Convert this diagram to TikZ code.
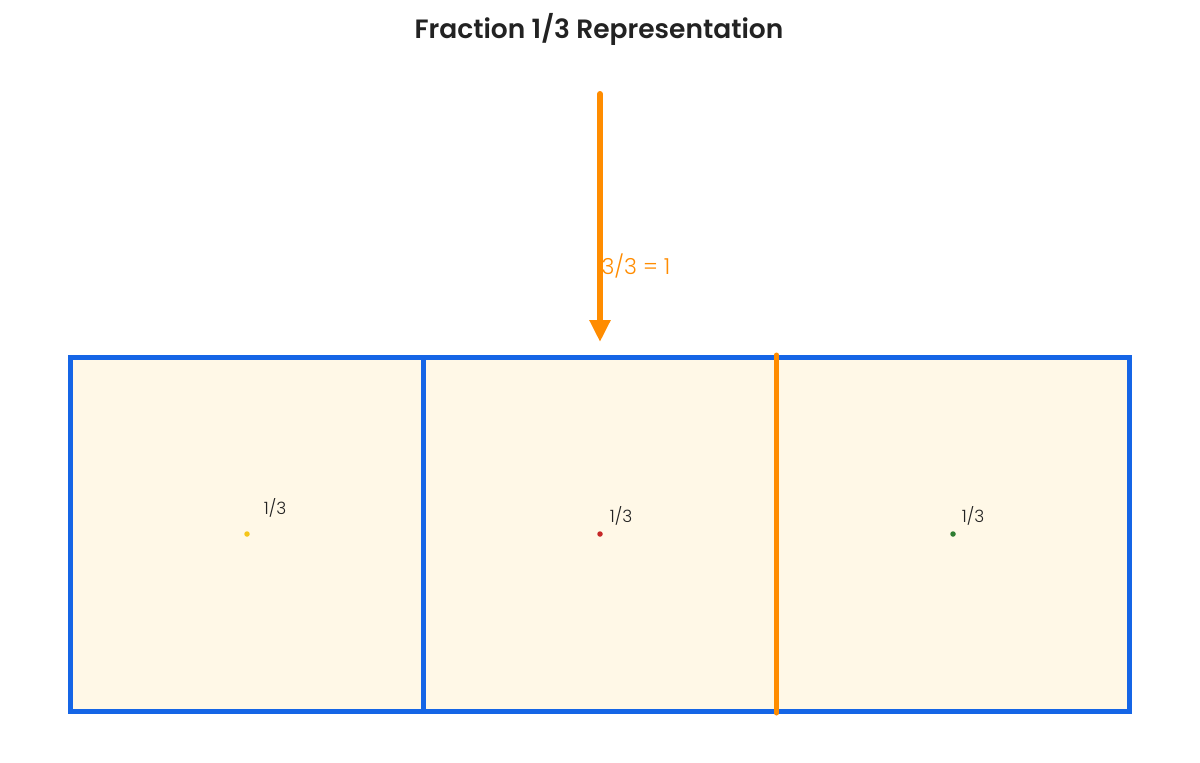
\documentclass[tikz,border=0pt]{standalone}
\usepackage{fontspec}
\setmainfont{Poppins}[BoldFont={Poppins SemiBold}]
\newfontfamily\lightfont{Poppins Light}
\usetikzlibrary{arrows.meta}
\definecolor{boxblue}{HTML}{1565E6}
\definecolor{arrorange}{HTML}{FF8C00}
\definecolor{cream}{HTML}{FFF8E7}
\definecolor{dotyellow}{HTML}{F5C518}
\definecolor{dotred}{HTML}{C62828}
\definecolor{dotgreen}{HTML}{2E7D32}
\definecolor{textgray}{HTML}{222222}
\tikzset{
  part/.style={draw=boxblue, line width=4.8pt, fill=cream, minimum width=353pt, minimum height=354pt, inner sep=0pt, outer sep=0pt},
  frac/.style={text=textgray, font=\lightfont\fontsize{17}{20}\selectfont, inner sep=0pt},
  centredot/.style={circle, inner sep=0pt, minimum size=5.5pt},
}
\begin{document}
\begin{tikzpicture}[x=1pt,y=-1pt]
\useasboundingbox[fill=white] (0,0) rectangle (1200,763);
\node[font=\fontsize{26.5}{30}\selectfont\bfseries, text=textgray] (title) at (599,29) {Fraction 1/3 Representation};
\node[part, anchor=north west] (p1) at (70.5,357.5) {};
\node[part, anchor=north west] (p2) at (p1.north east) {};
\node[part, anchor=north west] (p3) at (p2.north east) {};
\node[centredot, fill=dotyellow] (d1) at (247,534) {};
\node[centredot, fill=dotred] (d2) at (600,534) {};
\node[centredot, fill=dotgreen] (d3) at (953,534) {};
\node[frac] (l1) at (275,508) {1/3};
\node[frac] (l2) at (621,516) {1/3};
\node[frac] (l3) at (973,516) {1/3};
\coordinate (divtop) at (776.5,355);
\coordinate (divbot) at (776.5,713);
\draw[arrorange, line width=5pt, line cap=round] (divtop) -- (divbot);
\coordinate (astart) at (600,94);
\coordinate (aend) at (600,342);
\draw[arrorange, line width=6pt, line cap=round, -{Triangle[length=22pt,width=20pt]}] (astart) -- (aend);
\node[text=arrorange, font=\lightfont\fontsize{22}{26}\selectfont, inner sep=0pt] (alabel) at (636,266) {3/3 = 1};
\end{tikzpicture}
\end{document}
